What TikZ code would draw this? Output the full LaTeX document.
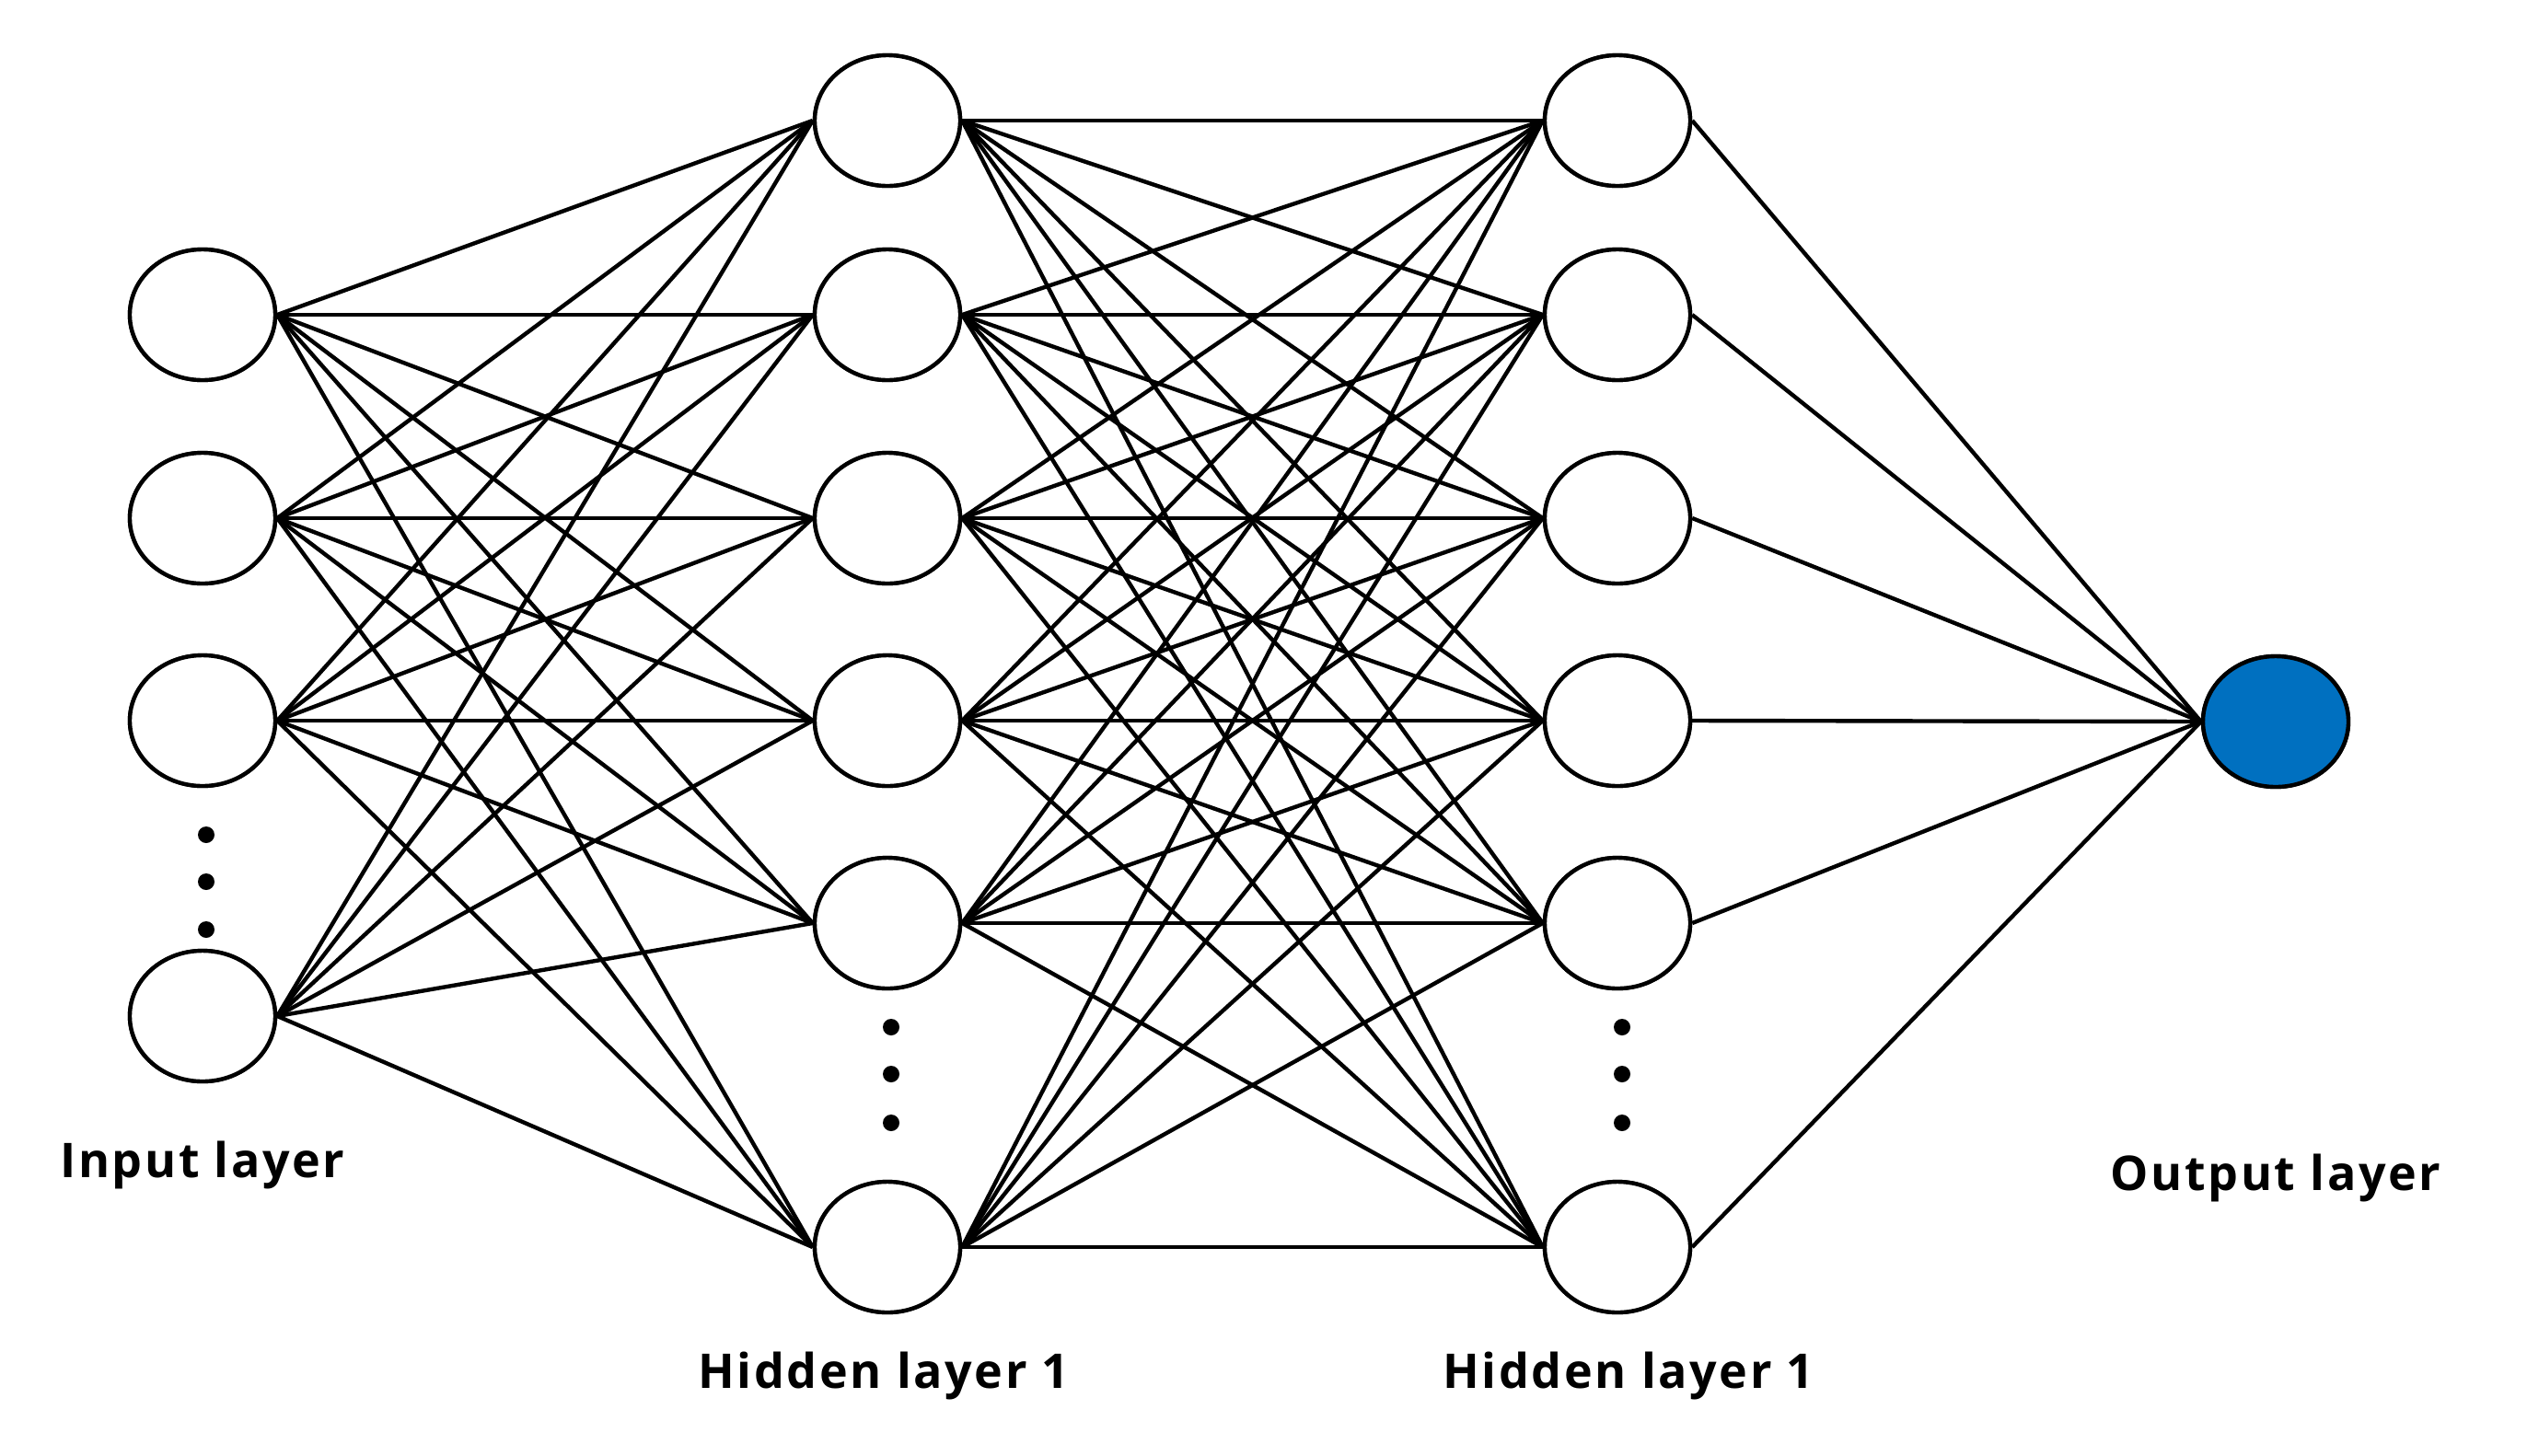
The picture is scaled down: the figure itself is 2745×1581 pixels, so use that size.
\documentclass[tikz,border=0pt]{standalone}
\usepackage{fontspec}
\setmainfont{Open Sans}[LetterSpace=5]
\usetikzlibrary{shapes.geometric}
\definecolor{outblue}{RGB}{0,112,192}
\begin{document}
\begin{tikzpicture}[x={(0.5pt,0)},y={(0,-0.5pt)},
  neuron/.style={ellipse,draw=black,line width=2.2pt,fill=white,minimum width=79pt,minimum height=71pt,inner sep=0pt},
  outneuron/.style={neuron,fill=outblue},
  link/.style={draw=black,line width=2.2pt},
  dotmark/.style={fill=black},
  lbl/.style={anchor=base,font=\fontsize{26}{30}\selectfont\bfseries,inner sep=0pt}]
\useasboundingbox (0,0) rectangle (2745,1581);
% nodes
\foreach \n/\y in {1/342,2/563,3/783,4/1104}
  \node[neuron] (i\n) at (220,\y) {};
\foreach \n/\y in {1/131,2/342,3/563,4/783,5/1003,6/1355}{
  \node[neuron] (a\n) at (964,\y) {};
  \node[neuron] (b\n) at (1757,\y) {};
}
\node[outneuron] (o) at (2472,784) {};
% connectors
\foreach \s in {1,...,4}
  \foreach \t in {1,...,6}
    \draw[link] (i\s.east) -- (a\t.west);
\foreach \s in {1,...,6}
  \foreach \t in {1,...,6}
    \draw[link] (a\s.east) -- (b\t.west);
\foreach \s in {1,...,6}
  \draw[link] (b\s.east) -- (o.west);
% redraw nodes on top
\foreach \n in {1,...,4}
  \node[neuron] at (i\n) {};
\foreach \n in {1,...,6}{
  \node[neuron] at (a\n) {};
  \node[neuron] at (b\n) {};
}
\node[outneuron] at (o) {};
% ellipsis dots
\foreach \y in {907,958,1010}
  \fill[dotmark] (224,\y) circle[radius=4.5pt];
\foreach \y in {1116,1167,1220}{
  \fill[dotmark] (968,\y) circle[radius=4.5pt];
  \fill[dotmark] (1762,\y) circle[radius=4.5pt];
}
% labels
\node[lbl] (linput) at (220,1279) {Input layer};
\node[lbl] (lh1) at (960,1508) {Hidden layer 1};
\node[lbl] (lh2) at (1769,1508) {Hidden layer 1};
\node[lbl] (lout) at (2472,1293) {Output layer};
\end{tikzpicture}
\end{document}
